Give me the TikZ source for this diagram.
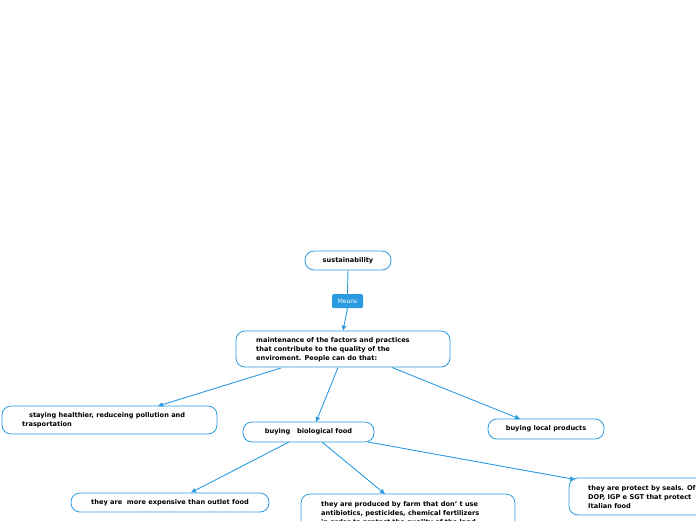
\documentclass[tikz,border=0pt]{standalone}
\usepackage{fontspec}
\setmainfont{DejaVu Sans}
\usetikzlibrary{arrows.meta}
\definecolor{lineblue}{HTML}{2A9BE0}
\begin{document}
\begin{tikzpicture}[x=1pt,y=-1pt,
  box/.style={draw=lineblue,line width=0.8pt,rounded corners=9pt,fill=white,inner sep=0pt},
  fnt/.style={font=\bfseries\fontsize{6.6}{9}\selectfont},
  txt/.style={fnt,align=left,anchor=west,inner sep=0pt},
  conn/.style={draw=lineblue,line width=0.9pt},
  arr/.style={conn,-{Triangle[length=5pt,width=4.5pt]}}]
\useasboundingbox (0,0) rectangle (696,520);
\clip (0,0) rectangle (696,520);
% boxes
\node[box,minimum width=86pt,minimum height=19pt] (sus) at (348,260.5) {};
\node[fnt] at (sus) {sustainability};
\node[fill=lineblue,rounded corners=1.5pt,minimum width=31pt,minimum height=14pt,inner sep=0pt,text=white,font=\fontsize{6}{7}\selectfont] (means) at (347.5,301) {Means};
\node[box,minimum width=214pt,minimum height=36pt] (main) at (343,349) {};
\node[txt] at (256,349.5) {maintenance of the factors and practices\\that contribute to the quality of the\\enviroment.  People can  do that:};
\node[box,minimum width=215pt,minimum height=28pt] (stay) at (109.5,420) {};
\node[txt] at (22,420.5) {\ \ \ staying healthier, reduceing pollution and\\trasportation};
\node[box,minimum width=131pt,minimum height=20pt] (bio) at (308.5,432) {};
\node[fnt] at (bio) {buying \ \ biological food};
\node[box,minimum width=116pt,minimum height=20pt] (loc) at (546,429) {};
\node[fnt] at (loc) {buying local products};
\node[box,minimum width=198pt,minimum height=19pt] (exp) at (170,502.5) {};
\node[fnt] at (exp) {they are \ more expensive than outlet food};
\node[box,minimum width=214pt,minimum height=44pt] (prod) at (408,516) {};
\node[txt] at (321,513.5) {they are produced by farm that don' t use\\antibiotics, pesticides, chemical fertilizers\\in order to protect the quality of the land};
\node[box,minimum width=160pt,minimum height=37pt] (seal) at (649,496.5) {};
\node[txt] at (588,497) {they are protect by seals. Of\\DOP, IGP e SGT that protect\\Italian food};
% connectors
\draw[conn] (sus.south) -- (means.north);
\draw[arr] (means.south) -- (main.north);
\draw[arr] (281,368) -- (158,406);
\draw[arr] (338,367.5) -- (316,422);
\draw[arr] (392,367.5) -- (520,419);
\draw[arr] (289,442) -- (191,492.5);
\draw[arr] (322,442) -- (385,494);
\draw[arr] (368,442) -- (575,479.5);
\end{tikzpicture}
\end{document}
